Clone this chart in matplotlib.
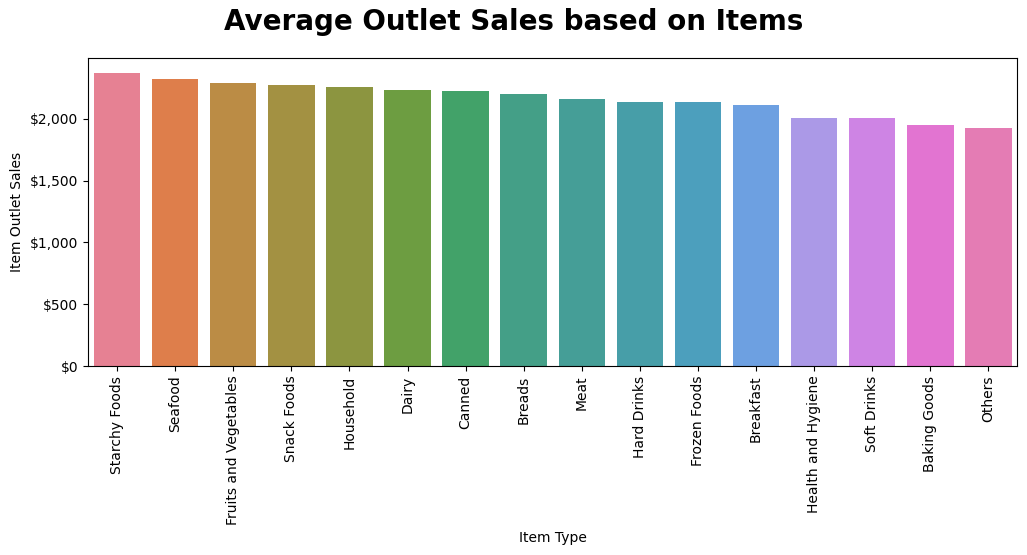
import matplotlib
matplotlib.use("Agg")
import matplotlib.pyplot as plt
import seaborn as sns
from matplotlib.ticker import FuncFormatter

item_types = ["Starchy Foods", "Seafood", "Fruits and Vegetables", "Snack Foods",
              "Household", "Dairy", "Canned", "Breads", "Meat", "Hard Drinks",
              "Frozen Foods", "Breakfast", "Health and Hygiene", "Soft Drinks",
              "Baking Goods", "Others"]
avg_sales = [2374, 2326, 2290, 2277, 2259, 2233, 2225, 2204, 2159, 2139,
             2133, 2112, 2011, 2005, 1952, 1926]

fig = plt.figure(figsize=(10.27, 5.55), dpi=100)
ax = fig.add_axes([0.0857, 0.3405, 0.905, 0.555])
sns.barplot(x=item_types, y=avg_sales, hue=item_types, palette="husl",
            saturation=0.75, legend=False, ax=ax)
ax.yaxis.set_major_formatter(FuncFormatter(lambda v, p: f"${v:,.0f}"))
ax.set_xlabel("Item Type")
ax.set_ylabel("Item Outlet Sales")
ax.tick_params(axis="x", rotation=90)
fig.suptitle("Average Outlet Sales based on Items", fontsize=20, fontweight="bold", y=0.985)
fig.savefig("out.png", dpi=100)
